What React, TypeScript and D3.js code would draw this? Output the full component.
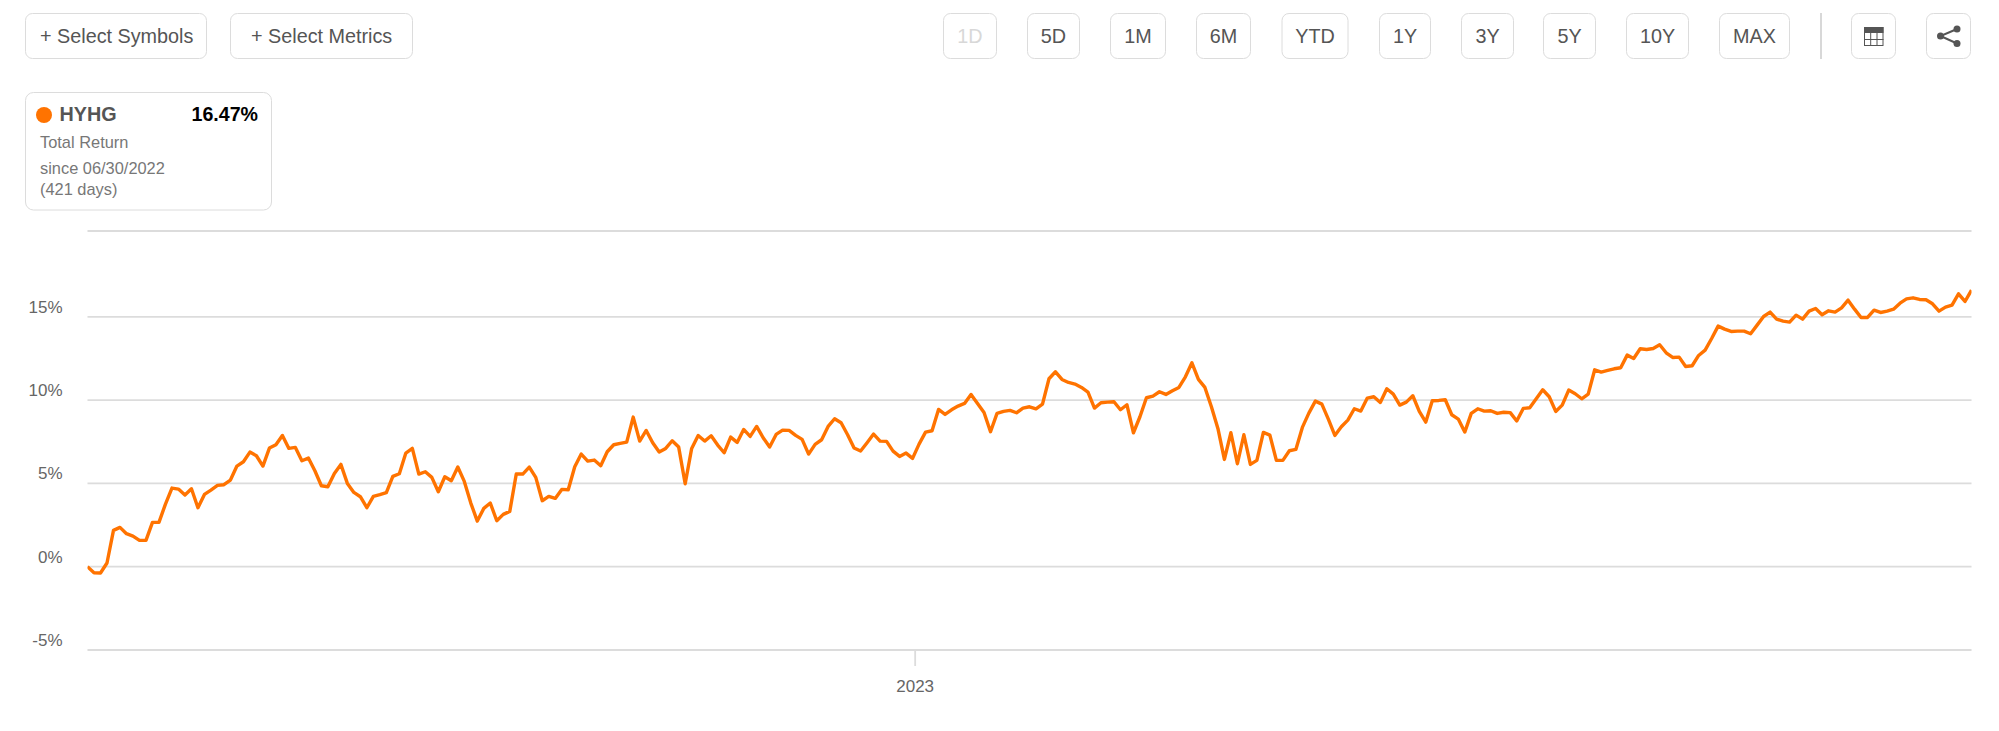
import * as d3 from "d3";

const FONT = "'Liberation Sans', Arial, sans-serif";

// total return in %, one value per trading day since 06/30/2022
const hyhgReturns = [
  0, -0.36, -0.38, 0.22, 2.18, 2.36, 1.98, 1.84, 1.58, 1.58, 2.66, 2.66, 3.76, 4.72, 4.66, 4.3,
  4.68, 3.54, 4.34, 4.6, 4.88, 4.92, 5.2, 6.04, 6.3, 6.88, 6.66, 6.04, 7.12, 7.32, 7.88, 7.1,
  7.16, 6.36, 6.52, 5.76, 4.86, 4.8, 5.6, 6.14, 5.0, 4.46, 4.2, 3.54, 4.22, 4.32, 4.44, 5.42,
  5.58, 6.82, 7.1, 5.56, 5.7, 5.36, 4.5, 5.4, 5.16, 5.98, 5.12, 3.82, 2.74, 3.5, 3.82, 2.76,
  3.14, 3.32, 5.56, 5.56, 5.98, 5.36, 3.96, 4.22, 4.1, 4.64, 4.62, 6.0, 6.76, 6.34, 6.4, 6.06,
  6.9, 7.32, 7.4, 7.48, 8.98, 7.54, 8.18, 7.44, 6.88, 7.1, 7.56, 7.18, 4.98, 7.1, 7.88, 7.54,
  7.86, 7.3, 6.84, 7.78, 7.46, 8.24, 7.82, 8.42, 7.74, 7.18, 7.94, 8.2, 8.18, 7.88, 7.64, 6.76,
  7.34, 7.62, 8.42, 8.88, 8.64, 7.92, 7.12, 6.94, 7.44, 7.96, 7.54, 7.52, 6.94, 6.62, 6.82, 6.5,
  7.36, 8.08, 8.16, 9.44, 9.14, 9.42, 9.64, 9.8, 10.34, 9.8, 9.26, 8.1, 9.2,
  9.32, 9.38, 9.24, 9.52, 9.6, 9.48, 9.76, 11.28, 11.7, 11.24, 11.06, 10.96, 10.76, 10.48, 9.52,
  9.84, 9.88, 9.9, 9.42, 9.72, 8.04, 9.0, 10.14, 10.24, 10.5, 10.34, 10.56, 10.76, 11.4, 12.24,
  11.24, 10.76, 9.6, 8.3, 6.44, 8.04, 6.18, 7.92, 6.14, 6.38, 8.06, 7.9, 6.38, 6.38, 6.96, 7.04,
  8.36, 9.22, 9.94, 9.76, 8.86, 7.88, 8.4, 8.8, 9.48, 9.34, 10.12, 10.2, 9.86, 10.68, 10.36, 9.7,
  9.88, 10.26, 9.32, 8.68, 9.96, 9.98, 10.02, 9.12, 8.86, 8.08, 9.2, 9.48, 9.34, 9.36, 9.2,
  9.27, 9.25, 8.75, 9.5, 9.54, 10.08, 10.62, 10.2, 9.32, 9.7, 10.6, 10.38, 10.08, 10.36, 11.82,
  11.68, 11.78, 11.88, 11.94, 12.7, 12.5, 13.08, 13.04, 13.1, 13.32, 12.84, 12.56, 12.58, 12.02,
  12.06, 12.68, 13.0, 13.7, 14.44, 14.26, 14.12, 14.14, 14.14, 13.98, 14.5, 15.02, 15.28, 14.86,
  14.74, 14.68, 15.1, 14.86, 15.34, 15.5, 15.12, 15.36, 15.28, 15.54, 16.0, 15.46, 14.96, 14.96,
  15.4, 15.26, 15.34, 15.46, 15.82, 16.08, 16.14, 16.04, 16.02, 15.78, 15.34, 15.58, 15.7, 16.38,
  15.92, 16.6,
];

const yTicks = [-5, 0, 5, 10, 15];
const yTop = 20.15; // the plot's top edge, drawn as an unlabelled line
const yearTickIndex = 127.4; // Jan 1 falls between two trading days
const yearTickLabel = "2023";

const rangeLabels = ["1D", "5D", "1M", "6M", "YTD", "1Y", "3Y", "5Y", "10Y", "MAX"];
const rangeLefts = [943.5, 1027.5, 1110.5, 1196.5, 1282, 1379.5, 1461.5, 1543.5, 1626.5, 1719.5];
const rangeRights = [996.5, 1079.5, 1165.5, 1250.5, 1348, 1430.5, 1513.5, 1595.5, 1688.5, 1789.5];

function Button({ x0, x1, label, color = "#555" }: { x0: number; x1: number; label?: string; color?: string }) {
  return (
    <g>
      <rect x={x0} y={13.5} width={x1 - x0} height={45} rx={7} fill="#fff" stroke="#dcdcdc" strokeWidth={1} />
      {label && (
        <text x={(x0 + x1) / 2} y={42.5} textAnchor="middle" fontSize={19.8} fill={color}>
          {label}
        </text>
      )}
    </g>
  );
}

export default function App() {
  const width = 1999;
  const height = 731;
  const left = 87.5;
  const right = 1971.5;

  const x = d3.scaleLinear().domain([0, hyhgReturns.length - 1]).range([left, right]);
  const y = d3.scaleLinear().domain([-5, yTop]).range([650, 231]);

  const line = d3
    .line<number>()
    .x((_, i) => x(i))
    .y((d) => y(d));

  const gridLines = [...yTicks, yTop];

  return (
    <svg
      width={width}
      height={height}
      viewBox={`0 0 ${width} ${height}`}
      style={{ position: "absolute", left: 0, top: 0, display: "block", background: "#fff" }}
      fontFamily={FONT}
    >
      <defs>
        <clipPath id="plot-clip">
          <rect x={left} y={200} width={right - left} height={470} />
        </clipPath>
      </defs>

      {/* top toolbar */}
      <Button x0={25.5} x1={206.5} />
      <text x={40} y={42.5} fontSize={19.8} fill="#555">+ Select Symbols</text>
      <Button x0={230.5} x1={412.5} />
      <text x={251} y={42.5} fontSize={19.8} fill="#555">+ Select Metrics</text>

      {rangeLabels.map((label, i) => (
        <Button
          key={label}
          x0={rangeLefts[i]}
          x1={rangeRights[i]}
          label={label}
          color={label === "1D" ? "#d8d8d8" : "#555"}
        />
      ))}

      <line x1={1821} x2={1821} y1={13} y2={59} stroke="#d8d8d8" strokeWidth={2} />

      {/* table icon */}
      <Button x0={1851.5} x1={1895.5} />
      <g>
        <rect x={1864.5} y={27.5} width={18.5} height={18} fill="#fff" stroke="#555" strokeWidth={1} />
        <rect x={1864} y={27} width={19.5} height={6} fill="#555" />
        <path d="M1864 39.5H1883.5M1870.7 33V45.5M1877 33V45.5" stroke="#555" strokeWidth={1} fill="none" />
      </g>

      {/* share icon */}
      <Button x0={1926.5} x1={1970.5} />
      <g fill="#555" stroke="#555">
        <path d="M1957 29L1940.5 36L1957 43.5" fill="none" strokeWidth={2} />
        <circle cx={1957} cy={29} r={3.5} strokeWidth={0} />
        <circle cx={1940.5} cy={36} r={3.5} strokeWidth={0} />
        <circle cx={1957} cy={43.5} r={3.5} strokeWidth={0} />
      </g>

      {/* summary card */}
      <rect x={25.5} y={92.5} width={246} height={117.5} rx={8} fill="#fff" stroke="#dcdcdc" />
      <circle cx={44} cy={115} r={8} fill="#ff7300" />
      <text x={59.5} y={120.5} fontSize={19.8} fontWeight="bold" fill="#555">HYHG</text>
      <text x={258} y={120.5} fontSize={19.6} fontWeight="bold" fill="#000" textAnchor="end">16.47%</text>
      <text x={40} y={147.5} fontSize={16.4} fill="#777">Total Return</text>
      <text x={40} y={174} fontSize={16.4} fill="#777">since 06/30/2022</text>
      <text x={40} y={194.5} fontSize={16.4} fill="#777">(421 days)</text>

      {/* y axis */}
      {gridLines.map((t) => (
        <line key={t} x1={left} x2={right} y1={y(t)} y2={y(t)} stroke="#dcdcdc" strokeWidth={1.8} />
      ))}
      {yTicks.map((t) => (
        <text key={t} x={62.5} y={y(t) - 4} textAnchor="end" fontSize={17} fill="#666">
          {t}%
        </text>
      ))}

      {/* x axis */}
      <line
        x1={x(yearTickIndex)}
        x2={x(yearTickIndex)}
        y1={650}
        y2={666}
        stroke="#dcdcdc"
        strokeWidth={1.8}
      />
      <text x={x(yearTickIndex)} y={692} textAnchor="middle" fontSize={17} fill="#666">
        {yearTickLabel}
      </text>

      {/* series */}
      <path
        d={line(hyhgReturns) ?? undefined}
        fill="none"
        stroke="#ff7300"
        strokeWidth={3.4}
        strokeLinejoin="round"
        clipPath="url(#plot-clip)"
      />
    </svg>
  );
}
